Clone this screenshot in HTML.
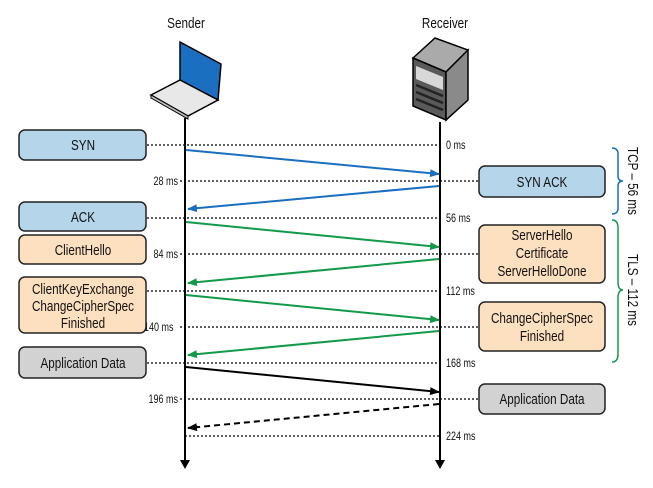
<!DOCTYPE html>
<html><head><style>
body{margin:0;background:#fff;}
svg text{font-family:"Liberation Sans",sans-serif;fill:#111;}
</style></head><body>
<svg width="653" height="483" viewBox="0 0 653 483" xmlns="http://www.w3.org/2000/svg">
<defs>
<marker id="ab" markerWidth="10" markerHeight="8" refX="9" refY="4" orient="auto" markerUnits="userSpaceOnUse"><path d="M0,0 L10,4 L0,8 Z" fill="#1a6fc0"/></marker>
<marker id="ag" markerWidth="10" markerHeight="8" refX="9" refY="4" orient="auto" markerUnits="userSpaceOnUse"><path d="M0,0 L10,4 L0,8 Z" fill="#129a4a"/></marker>
<marker id="ak" markerWidth="10" markerHeight="8" refX="9" refY="4" orient="auto" markerUnits="userSpaceOnUse"><path d="M0,0 L10,4 L0,8 Z" fill="#000"/></marker>
</defs>
<g font-size="15" text-anchor="middle">
<text transform="translate(186,28) scale(0.78,1)">Sender</text>
<text transform="translate(445,28) scale(0.78,1)">Receiver</text>
</g>
<!-- laptop -->
<polygon points="180,42 221,64 218,100 180,80" fill="#1a6fc0" stroke="#000" stroke-width="1.5"/>
<polygon points="180,80 218,100 188,116 151,95" fill="#e8e8e8" stroke="#000" stroke-width="1.5"/>
<polygon points="151,95 188,116 188,119 151,98" fill="#bbb" stroke="#000" stroke-width="1"/>
<!-- server -->
<polygon points="413,58 435,38 468,50 446,72" fill="#aaa" stroke="#000" stroke-width="1.5"/>
<polygon points="413,58 446,72 446,120 413,106" fill="#5a5a5a" stroke="#000" stroke-width="1.5"/>
<polygon points="446,72 468,50 468,100 446,120" fill="#8a8a8a" stroke="#000" stroke-width="1.5"/>
<polygon points="416,66 443,77 443,90 416,79" fill="#d8d8d8"/>
<g stroke="#222" stroke-width="2.5"><line x1="416" y1="85" x2="443" y2="96"/><line x1="416" y1="92" x2="443" y2="103"/><line x1="416" y1="99" x2="443" y2="110"/></g>
<!-- lifelines -->
<line x1="185" y1="118" x2="185" y2="462" stroke="#000" stroke-width="2"/>
<path d="M180,460 L190,460 L185,469 Z" fill="#000"/>
<line x1="440" y1="122" x2="440" y2="462" stroke="#000" stroke-width="2"/>
<path d="M435,460 L445,460 L440,469 Z" fill="#000"/>
<!-- dotted lines -->
<g stroke="#000" stroke-width="1.3" stroke-dasharray="2,2">
<line x1="147" y1="145" x2="440" y2="145"/>
<line x1="180" y1="181" x2="478" y2="181"/>
<line x1="147" y1="218" x2="440" y2="218"/>
<line x1="180" y1="254" x2="478" y2="254"/>
<line x1="147" y1="291" x2="440" y2="291"/>
<line x1="180" y1="327" x2="478" y2="327"/>
<line x1="147" y1="363" x2="440" y2="363"/>
<line x1="180" y1="399" x2="478" y2="399"/>
<line x1="185" y1="436" x2="440" y2="436"/>
</g>
<g font-size="12">
<text transform="translate(446,149) scale(0.75,1)">0 ms</text>
<text transform="translate(178,185) scale(0.75,1)" text-anchor="end">28 ms</text>
<text transform="translate(446,222) scale(0.75,1)">56 ms</text>
<text transform="translate(178,258) scale(0.75,1)" text-anchor="end">84 ms</text>
<text transform="translate(446,295) scale(0.75,1)">112 ms</text>
<text transform="translate(144,331) scale(0.75,1)">140 ms</text>
<text transform="translate(446,367) scale(0.75,1)">168 ms</text>
<text transform="translate(178,403) scale(0.75,1)" text-anchor="end">196 ms</text>
<text transform="translate(446,440) scale(0.75,1)">224 ms</text>
</g>
<!-- arrows -->
<g stroke-width="2" fill="none">
<line x1="186" y1="150" x2="439" y2="174" stroke="#1a6fc0" marker-end="url(#ab)"/>
<line x1="439" y1="186" x2="188" y2="209" stroke="#1a6fc0" marker-end="url(#ab)"/>
<line x1="186" y1="222" x2="439" y2="247" stroke="#129a4a" marker-end="url(#ag)"/>
<line x1="439" y1="259" x2="188" y2="283" stroke="#129a4a" marker-end="url(#ag)"/>
<line x1="186" y1="295" x2="439" y2="320" stroke="#129a4a" marker-end="url(#ag)"/>
<line x1="439" y1="331" x2="188" y2="355" stroke="#129a4a" marker-end="url(#ag)"/>
<line x1="186" y1="367" x2="439" y2="392" stroke="#000" marker-end="url(#ak)"/>
<line x1="439" y1="404" x2="188" y2="428" stroke="#000" stroke-dasharray="6,4" marker-end="url(#ak)"/>
</g>
<!-- boxes -->
<g stroke="#222" stroke-width="1.5">
<rect x="19" y="130" width="127" height="30" rx="6" fill="#b5d5eb"/>
<rect x="19" y="202" width="127" height="29" rx="6" fill="#b5d5eb"/>
<rect x="19" y="235" width="127" height="29" rx="6" fill="#fde0bf"/>
<rect x="19" y="277" width="127" height="56" rx="6" fill="#fde0bf"/>
<rect x="19" y="347" width="127" height="31" rx="6" fill="#d2d2d2"/>
<rect x="479" y="166" width="126" height="31" rx="6" fill="#b5d5eb"/>
<rect x="479" y="225" width="126" height="58" rx="6" fill="#fde0bf"/>
<rect x="479" y="302" width="126" height="49" rx="6" fill="#fde0bf"/>
<rect x="479" y="384" width="126" height="30" rx="6" fill="#d2d2d2"/>
</g>
<g font-size="15" text-anchor="middle">
<text transform="translate(83,150) scale(0.78,1)">SYN</text>
<text transform="translate(83,222) scale(0.78,1)">ACK</text>
<text transform="translate(83,255) scale(0.78,1)">ClientHello</text>
<text transform="translate(83,294) scale(0.78,1)">ClientKeyExchange</text>
<text transform="translate(83,311) scale(0.78,1)">ChangeCipherSpec</text>
<text transform="translate(83,328) scale(0.78,1)">Finished</text>
<text transform="translate(83,368) scale(0.78,1)">Application Data</text>
<text transform="translate(542,187) scale(0.78,1)">SYN ACK</text>
<text transform="translate(542,240) scale(0.78,1)">ServerHello</text>
<text transform="translate(542,258) scale(0.78,1)">Certificate</text>
<text transform="translate(542,276) scale(0.78,1)">ServerHelloDone</text>
<text transform="translate(542,323) scale(0.78,1)">ChangeCipherSpec</text>
<text transform="translate(542,341) scale(0.78,1)">Finished</text>
<text transform="translate(542,404) scale(0.78,1)">Application Data</text>
</g>
<!-- braces -->
<path d="M612,148 Q618,148 618,154 L618,176 Q618,181 623,181 Q618,181 618,186 L618,208 Q618,214 612,214" fill="none" stroke="#1a6fc0" stroke-width="1.5"/>
<path d="M612,220 Q618,220 618,228 L618,282 Q618,290 623,290 Q618,290 618,298 L618,354 Q618,362 612,362" fill="none" stroke="#129a4a" stroke-width="1.5"/>
<text font-size="15" transform="translate(628,181) rotate(90) scale(0.78,1)" text-anchor="middle">TCP – 56 ms</text>
<text font-size="15" transform="translate(628,290) rotate(90) scale(0.78,1)" text-anchor="middle">TLS – 112 ms</text>
</svg>
</body></html>
